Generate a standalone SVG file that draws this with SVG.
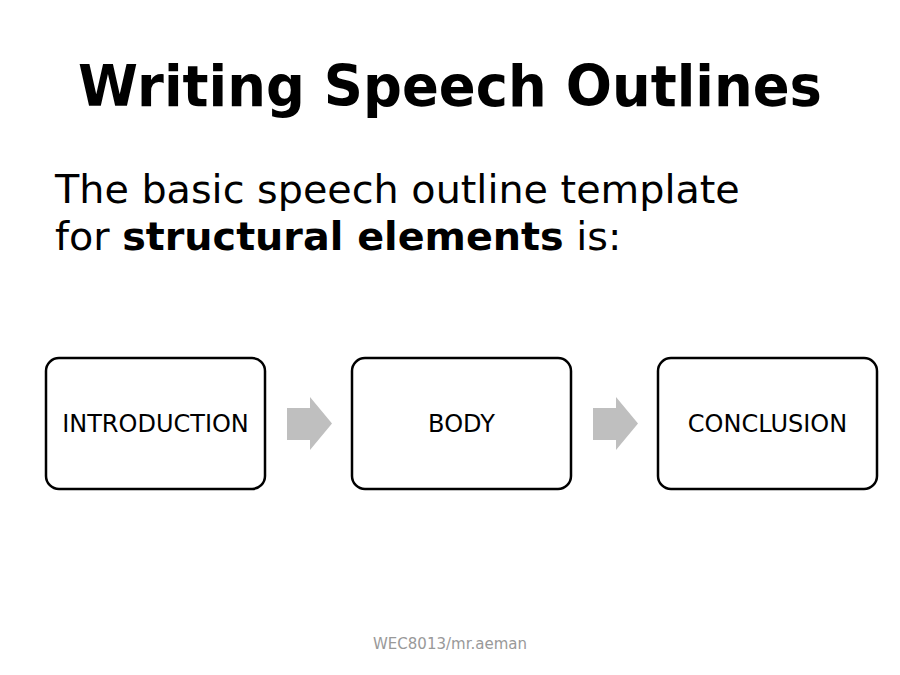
<svg xmlns="http://www.w3.org/2000/svg" width="900" height="675" viewBox="0 0 900 675">
<style>
.t{font-family:"DejaVu Sans","Liberation Sans",sans-serif;fill:#000}
.box{fill:#fff;stroke:#000;stroke-width:2.5}
.lbl{font-family:"DejaVu Sans","Liberation Sans",sans-serif;font-size:24px;text-anchor:middle;fill:#000}
.arr{fill:#bfbfbf}
</style>
<rect width="900" height="675" fill="#fff"/>
<text class="t" x="78" y="106" font-size="57" font-weight="bold" textLength="744" lengthAdjust="spacingAndGlyphs">Writing Speech Outlines</text>
<text class="t" x="55" y="203" font-size="39.7">The basic speech outline template</text>
<text class="t" x="55" y="250" font-size="39.7">for <tspan font-weight="bold">structural elements</tspan> is:</text>
<g id="intro"><rect class="box" x="46" y="358" width="219" height="131" rx="13"/><text class="lbl" x="155.5" y="432">INTRODUCTION</text></g>
<g id="body"><rect class="box" x="352" y="358" width="219" height="131" rx="13"/><text class="lbl" x="461.5" y="432">BODY</text></g>
<g id="conclusion"><rect class="box" x="658" y="358" width="219" height="131" rx="13"/><text class="lbl" x="767.5" y="432">CONCLUSION</text></g>
<g id="connectors">
<polygon class="arr" points="287,408 310,408 310,397 332,423.5 310,450 310,440 287,440"/>
<polygon class="arr" points="593,408 616,408 616,397 638,423.5 616,450 616,440 593,440"/>
</g>
<text x="450" y="649" font-family="DejaVu Sans,Liberation Sans,sans-serif" font-size="15" fill="#999" text-anchor="middle">WEC8013/mr.aeman</text>
</svg>
